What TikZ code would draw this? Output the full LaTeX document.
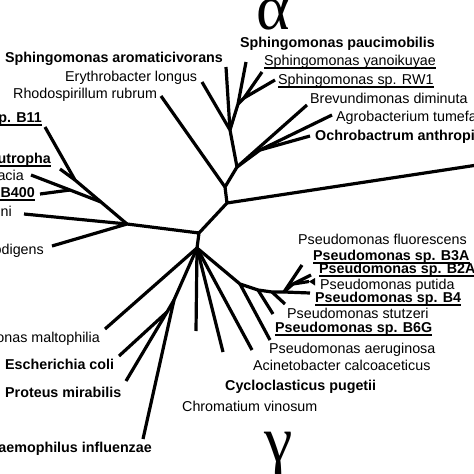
\documentclass[tikz,border=0pt]{standalone}
\usepackage{fontspec}
\setmainfont{Liberation Sans}
\newfontfamily\greekfont{Liberation Serif}
\begin{document}
\begin{tikzpicture}[x=1pt,y=-1pt,
  br/.style={line width=3.2pt, line cap=butt, line join=round},
  lab/.style={inner sep=0pt, font=\fontsize{14.3}{17}\selectfont},
  blab/.style={inner sep=0pt, font=\fontsize{14.3}{17}\selectfont\bfseries},
  uln/.style={line width=1.1pt},
  bul/.style={line width=1.7pt},
  greek/.style={inner sep=0pt, font=\fontsize{64}{64}\greekfont}]
\useasboundingbox (0,0) rectangle (474,474);
\clip (0,0) rectangle (474,474);
\fill[white] (0,0) rectangle (474,474);
% ---------- tree points ----------
\coordinate (A0) at (227,203);
\coordinate (A1) at (225,187);
\coordinate (A2) at (237,167);
\coordinate (A3) at (260,150);
\coordinate (A4) at (230,130);
\coordinate (A5) at (238,104);
\coordinate (A6) at (244,98);
\coordinate (eRho) at (161,96);
\coordinate (eBre) at (307,105);
\coordinate (eAgr) at (332,115);
\coordinate (eOch) at (310,136);
\coordinate (eEry) at (202,82);
\coordinate (eAro) at (226,67);
\coordinate (ePau) at (246,62);
\coordinate (eYan) at (262,72);
\coordinate (eRW) at (275,80);
\coordinate (eLong) at (484,164);
\coordinate (C1) at (199,233);
\coordinate (G0) at (197,248);
\coordinate (L0) at (127,224);
\coordinate (L1) at (101,202);
\coordinate (L2) at (75,180);
\coordinate (L3) at (70,190);
\coordinate (eB11) at (45,127);
\coordinate (eEut) at (60,169);
\coordinate (eCep) at (31,175);
\coordinate (eLB) at (40,194);
\coordinate (eTes) at (24,214);
\coordinate (eDig) at (52,246);
\coordinate (J1) at (174,300);
\coordinate (J2) at (167,312);
\coordinate (eMal) at (105,329);
\coordinate (eHae) at (143,439);
\coordinate (eEco) at (119,356);
\coordinate (ePro) at (126,381);
\coordinate (eV1) at (196,331);
\coordinate (eV2) at (223,352);
\coordinate (eV3) at (252,350);
\coordinate (P1) at (240,284);
\coordinate (P2) at (258,290);
\coordinate (P3) at (272,292);
\coordinate (K) at (284,292);
\coordinate (K2) at (293,284);
\coordinate (eP1) at (270,340);
\coordinate (eP2) at (273,314);
\coordinate (eP3) at (285,304);
\coordinate (eK1) at (302,265);
\coordinate (eK2) at (311,275);
\coordinate (eK3) at (309,281.5);
\coordinate (eK4) at (310,293);
% ---------- branches ----------
\draw[br] (eLong) -- (A0) -- (C1) -- (G0);
\draw[br] (C1) -- (L0);
\draw[br] (A0) -- (A1) -- (eRho);
\draw[br] (A1) -- (A2) -- (eBre);
\draw[br] (A2) -- (A3) -- (eAgr);
\draw[br] (A3) -- (eOch);
\draw[br] (A2) -- (A4) -- (eEry);
\draw[br] (A4) -- (eAro);
\draw[br] (A4) -- (A5) -- (ePau);
\draw[br] (A5) -- (A6) -- (eYan);
\draw[br] (A6) -- (eRW);
\draw[br] (L0) -- (L1) -- (L2) -- (eB11);
\draw[br] (L2) -- (eEut);
\draw[br] (L1) -- (L3) -- (eCep);
\draw[br] (L3) -- (eLB);
\draw[br] (L0) -- (eTes);
\draw[br] (L0) -- (eDig);
\draw[br] (G0) -- (eMal);
\draw[br] (G0) -- (J1) -- (eHae);
\draw[br] (J1) -- (J2) -- (eEco);
\draw[br] (J2) -- (ePro);
\draw[br] (G0) -- (eV1);
\draw[br] (G0) -- (eV2);
\draw[br] (G0) -- (eV3);
\draw[br] (G0) -- (P1) -- (P2) -- (P3) -- (K);
\draw[br] (P1) -- (eP1);
\draw[br] (P2) -- (eP2);
\draw[br] (P3) -- (eP3);
\draw[br] (K) -- (eK1);
\draw[br] (K) -- (K2) -- (eK2);
\draw[br] (K2) -- (eK3);
\draw[br] (K) -- (eK4);
\fill (eK3) -- (315,278) -- (315,285.5) -- cycle;
% ---------- greek ----------
\node[greek, anchor=base] (alpha) at (273,29) {α};
\node[greek, anchor=base] (gamma) at (279,461) {γ};
% ---------- labels (left aligned) ----------
\node[blab, anchor=base west] (tAro) at (5,62.5) {Sphingomonas aromaticivorans};
\node[lab, anchor=base west] (tEry) at (65,81.5) {Erythrobacter longus};
\node[lab, anchor=base west] (tRho) at (13,98.5) {Rhodospirillum rubrum};
\node[blab, anchor=base west] (tPau) at (240,47.5) {Sphingomonas paucimobilis};
\node[lab, anchor=base west] (tYan) at (264,65.5) {Sphingomonas yanoikuyae};
\node[lab, anchor=base west] (tRW) at (278,84.5) {Sphingomonas sp. RW1};
\node[lab, anchor=base west] (tBre) at (310,103.5) {Brevundimonas diminuta};
\node[lab, anchor=base west] (tAgr) at (336,121.5) {Agrobacterium tumefaciens};
\node[blab, anchor=base west] (tOch) at (315,140.5) {Ochrobactrum anthropi};
\node[lab, anchor=base west] (tFlu) at (298,244.5) {Pseudomonas fluorescens};
\node[blab, anchor=base west] (tB3A) at (313,260.5) {Pseudomonas sp. B3A};
\node[blab, anchor=base west] (tB2A) at (319,273.5) {Pseudomonas sp. B2A};
\node[lab, anchor=base west] (tPut) at (320,289.5) {Pseudomonas putida};
\node[blab, anchor=base west] (tB4) at (315,302.5) {Pseudomonas sp. B4};
\node[lab, anchor=base west] (tStu) at (287,318.5) {Pseudomonas stutzeri};
\node[blab, anchor=base west] (tB6G) at (275,332.5) {Pseudomonas sp. B6G};
\node[lab, anchor=base west] (tAer) at (269,353.5) {Pseudomonas aeruginosa};
\node[lab, anchor=base west] (tAci) at (253,370.5) {Acinetobacter calcoaceticus};
\node[blab, anchor=base west] (tCyc) at (225,390.5) {Cycloclasticus pugetii};
\node[lab, anchor=base west] (tChr) at (182,411.5) {Chromatium vinosum};
\node[blab, anchor=base west] (tEco) at (5,369.5) {Escherichia coli};
\node[blab, anchor=base west] (tPro) at (5,397.5) {Proteus mirabilis};
% ---------- labels (right aligned, cut at left edge) ----------
\node[lab, anchor=base east] (tMal) at (100,342.5) {Stenotrophomonas maltophilia};
\node[blab, anchor=base east] (tHae) at (152,452.5) {Haemophilus influenzae};
\node[blab, anchor=base east] (tB11) at (42,122.5) {Burkholderia sp. B11};
\node[blab, anchor=base east] (tEut) at (51,163.5) {Ralstonia eutropha};
\node[lab, anchor=base east] (tCep) at (24,180.5) {Burkholderia cepacia};
\node[blab, anchor=base east] (tLB) at (35,197.5) {Burkholderia sp. LB400};
\node[lab, anchor=base east] (tTes) at (12,216.5) {Comamonas testosteroni};
\node[lab, anchor=base east] (tDig) at (44,254.5) {odigens};
% ---------- underlines ----------
\foreach \n in {tYan,tRW}
  \draw[uln] ([yshift=-2.5pt]\n.base west) -- ([yshift=-2.5pt]\n.base east);
\foreach \n in {tB3A,tB2A,tB4,tB6G,tB11,tEut,tLB}
  \draw[bul] ([yshift=-2.8pt]\n.base west) -- ([yshift=-2.8pt]\n.base east);
\end{tikzpicture}
\end{document}
